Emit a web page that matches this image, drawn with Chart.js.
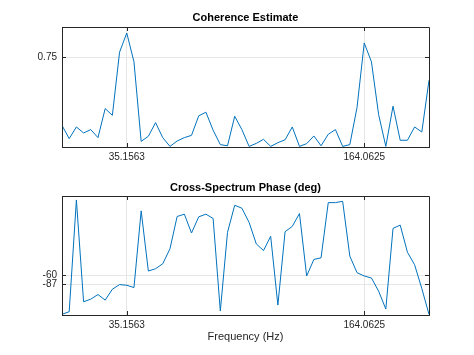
<!DOCTYPE html>
<html>
<head>
<meta charset="utf-8">
<script src="https://cdn.jsdelivr.net/npm/chart.js@4/dist/chart.umd.min.js"></script>
<style>
  html, body { margin: 0; padding: 0; background: #ffffff; }
  #wrap { position: relative; width: 474px; height: 355px; background: #ffffff; overflow: hidden; }
  #c1 { position: absolute; left: 0; top: 0; }
  #c2 { position: absolute; left: 0; top: 170px; }
</style>
</head>
<body>
<div id="wrap">
  <canvas id="c1" width="474" height="170"></canvas>
  <canvas id="c2" width="474" height="185"></canvas>
</div>
<script>
// ---- Data ----
const frequencies = [0, 3.90625, 7.8125, 11.71875, 15.625, 19.53125, 23.4375, 27.34375, 31.25, 35.15625,
  39.0625, 42.96875, 46.875, 50.78125, 54.6875, 58.59375, 62.5, 66.40625, 70.3125, 74.21875,
  78.125, 82.03125, 85.9375, 89.84375, 93.75, 97.65625, 101.5625, 105.46875, 109.375, 113.28125,
  117.1875, 121.09375, 125, 128.90625, 132.8125, 136.71875, 140.625, 144.53125, 148.4375, 152.34375,
  156.25, 160.15625, 164.0625, 167.96875, 171.875, 175.78125, 179.6875, 183.59375, 187.5, 191.40625,
  195.3125, 199.21875];

const coherence = [0.18, 0.07, 0.167, 0.117, 0.145, 0.078, 0.32, 0.264, 0.79, 0.95,
  0.71, 0.047, 0.089, 0.203, 0.078, 0.005, 0.05, 0.078, 0.097, 0.26,
  0.29, 0.14, 0.02, 0.01, 0.256, 0.145, 0.005, 0.03, 0.064, 0.005,
  0.036, 0.06, 0.167, 0.005, 0.028, 0.092, 0.01, 0.106, 0.145, 0.005,
  0.02, 0.33, 0.867, 0.71, 0.27, 0.005, 0.34, 0.056, 0.056, 0.167,
  0.125, 0.556];

const phaseDeg = [-178, -170, 168, -140, -132, -118, -135, -102, -88, -90,
  -97, 135, -47, -40, -25, 20, 118, 125, 68, 117,
  125, 112, -168, 70, 152, 143, 100, 35, 15, 58,
  -150, 72, 88, 127, -62, -12, -7, 160, 160, 164,
  -2, -52, -62, -68, -108, -162, 82, 92, 10, -28,
  -100, -178];

const xTickValues = [35.15625, 164.0625];
const xTickLabels = ['35.1563', '164.0625'];
const cohTickValues = [0.75];
const cohTickLabels = ['0.75'];
const phaseTickValues = [-87, -60];
const phaseTickLabels = ['-87', '-60'];

const titles = ['Coherence Estimate', 'Cross-Spectrum Phase (deg)'];
const xAxisTitle = 'Frequency (Hz)';

// ---- Styling ----
const AXC = '#262626';
const GRID = '#e6e6e6';
const LINE = '#0072BD';
const FONT = "'Liberation Sans', Arial, Helvetica, sans-serif";

const boxPlugin = {
  id: 'matlabBox',
  afterDatasetsDraw(chart) {
    const {ctx, chartArea: a, scales} = chart;
    ctx.save();
    ctx.strokeStyle = AXC;
    ctx.lineWidth = 1;
    const tl = 4;
    ctx.beginPath();
    scales.x.ticks.forEach(t => {
      const px = Math.round(scales.x.getPixelForValue(t.value)) + 0.5;
      ctx.moveTo(px, a.bottom); ctx.lineTo(px, a.bottom - tl);
      ctx.moveTo(px, a.top); ctx.lineTo(px, a.top + tl);
    });
    scales.y.ticks.forEach(t => {
      const py = Math.round(scales.y.getPixelForValue(t.value)) + 0.5;
      ctx.moveTo(a.left, py); ctx.lineTo(a.left + tl, py);
      ctx.moveTo(a.right, py); ctx.lineTo(a.right - tl, py);
    });
    ctx.stroke();
    ctx.beginPath();
    ctx.rect(Math.round(a.left) + 0.5, Math.round(a.top) + 0.5,
             Math.round(a.right - a.left), Math.round(a.bottom - a.top));
    ctx.stroke();
    ctx.restore();
  }
};

function makeChart(canvasId, values, yMin, yMax, yTicks, yLabels, title, titlePad, xAxisHeight, showXTitle) {
  const pts = frequencies.map((f, i) => ({x: f, y: values[i]}));
  return new Chart(document.getElementById(canvasId), {
    type: 'line',
    data: { datasets: [{ data: pts, borderColor: LINE, borderWidth: 1, pointRadius: 0, tension: 0, fill: false }] },
    options: {
      responsive: false,
      animation: false,
      events: [],
      layout: { padding: { left: 0, right: 45, top: 0, bottom: 0 } },
      plugins: {
        legend: { display: false },
        tooltip: { enabled: false },
        title: {
          display: true, text: title, color: '#000000', fullSize: false,
          font: { family: FONT, size: 11, weight: 'bold', lineHeight: 1.2 },
          padding: titlePad
        }
      },
      scales: {
        x: {
          type: 'linear', min: frequencies[0], max: frequencies[frequencies.length - 1],
          afterBuildTicks: s => { s.ticks = xTickValues.map(v => ({value: v})); },
          afterFit: s => { s.height = xAxisHeight; },
          ticks: {
            color: AXC, padding: 4, maxRotation: 0, autoSkip: false,
            font: { family: FONT, size: 10 },
            callback: (v, i) => xTickLabels[i]
          },
          grid: { color: GRID, lineWidth: 1, drawTicks: false },
          border: { display: true, color: AXC, width: 1 },
          title: {
            display: showXTitle, text: xAxisTitle, color: AXC,
            font: { family: FONT, size: 11, lineHeight: 1.2 },
            padding: { top: 0, bottom: 11 }
          }
        },
        y: {
          type: 'linear', min: yMin, max: yMax,
          afterBuildTicks: s => { s.ticks = yTicks.map(v => ({value: v})); },
          afterFit: s => { s.width = 62; },
          ticks: {
            color: AXC, padding: 5, autoSkip: false,
            font: { family: FONT, size: 10 },
            callback: (v, i) => yLabels[i]
          },
          grid: { color: GRID, lineWidth: 1, drawTicks: false },
          border: { display: true, color: AXC, width: 1 }
        }
      }
    },
    plugins: [boxPlugin]
  });
}

makeChart('c1', coherence, 0, 1, cohTickValues, cohTickLabels, titles[0],
  { top: 11.4, bottom: 2.4 }, 23, false);
makeChart('c2', phaseDeg, -180, 180, phaseTickValues, phaseTickLabels, titles[1],
  { top: 11.7, bottom: 1.1 }, 40, true);
</script>
</body>
</html>
